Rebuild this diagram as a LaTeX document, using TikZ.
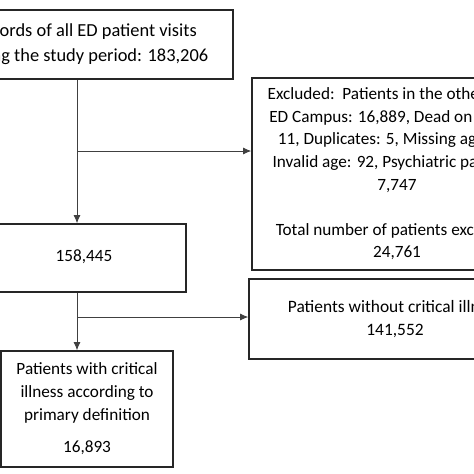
\documentclass[tikz,border=0pt]{standalone}
\usepackage{fontspec}
\setmainfont{Carlito}
\usetikzlibrary{arrows.meta, calc}
\tikzset{
    flowbox/.style={draw=black!85, line width=1.6pt, align=center, inner sep=0pt,
        font=\fontsize{17.2}{22.6}\selectfont},
    flowline/.style={draw=black!75, line width=0.8pt},
    flowarrow/.style={flowline, -{Latex[length=8pt, width=7pt]}}
}

\begin{document}
\begin{tikzpicture}[x=1pt, y=-1pt]
        \useasboundingbox (0,0) rectangle (474,474);
        \clip (0,0) rectangle (474,474);

        % ---------------- boxes ----------------
        \node[flowbox, minimum width=296pt, minimum height=69pt,
              font=\fontsize{18.4}{25}\selectfont] (records) at (85,44.5)
            {Records of all ED patient visits\\during the study period: 183,206};
        \node[flowbox, minimum width=290pt, minimum height=192pt] (excluded) at (397,174)
            {Excluded:\ \ Patients in the other\rule{2.4em}{0pt}\\ED Campus: 16,889, Dead on arrival:\\
             11, Duplicates: 5, Missing age: 17,\\Invalid age: 92, Psychiatric patients:\\
             7,747\\[22.6pt]Total number of patients excluded:\\24,761};
        \node[flowbox, minimum width=204pt, minimum height=68pt] (remaining) at (84,258)
            {\raisebox{4pt}{158,445}};
        \node[flowbox, minimum width=292pt, minimum height=80pt,
              font=\fontsize{17.4}{22.6}\selectfont] (noncritical) at (395,319)
            {Patients without critical illness\\141,552};
        \node[flowbox, minimum width=172pt, minimum height=116pt] (critical) at (87,409)
            {Patients with critical\\illness according to\\primary definition\\[10pt]16,893};

        % ---------------- connectors ----------------
        \coordinate (splitOne) at (77,151);
        \coordinate (splitTwo) at (77,317);

        \draw[flowarrow] (records.south -| splitOne) -- (remaining.north -| splitOne);
        \draw[flowarrow] (splitOne) -- (excluded.west |- splitOne);

        \draw[flowarrow] (remaining.south -| splitTwo) -- (critical.north -| splitTwo);
        \draw[flowarrow] (splitTwo) -- (noncritical.west |- splitTwo);
    \end{tikzpicture}
\end{document}
